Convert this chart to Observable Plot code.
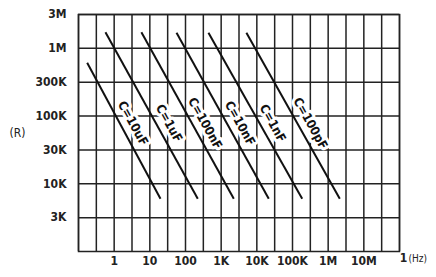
<!DOCTYPE html>
<html><head><meta charset="utf-8">
<script src="https://cdn.jsdelivr.net/npm/d3@7"></script>
<script src="https://cdn.jsdelivr.net/npm/@observablehq/plot@0.6"></script>
<style>body{margin:0;background:#fff}</style>
</head><body><div id="chart"></div>
<script>
// Capacitance lines (frequency in Hz, resistance in ohms)
const capLabels = ["C=10uF", "C=1uF", "C=100nF", "C=10nF", "C=1nF", "C=100pF"];
const fStart = [0.175, 0.57, 5.8, 56, 440, 5100];
const rStart = [612000, 1730000, 1730000, 1700000, 1700000, 1700000];
const fEnd = [19.9, 221, 2260, 21600, 187000, 2120000];
const rEnd = [6000, 6000, 6000, 6000, 6000, 6000];

// Axis ticks
const xTickValues = [1, 10, 100, 1e3, 1e4, 1e5, 1e6, 1e7];
const xTickLabels = ["1", "10", "100", "1K", "10K", "100K", "1M", "10M"];
const yTickValues = [10 ** 3.5, 1e4, 10 ** 4.5, 1e5, 10 ** 5.5, 1e6, 10 ** 6.5];
const yTickLabels = ["3K", "10K", "30K", "100K", "300K", "1M", "3M"];
const xDomain = [0.1, 1e8];
const yDomain = [1e3, 10 ** 6.5];
const labelR = 78000; // resistance where each line's label is centred

const xGrid = d3.range(-2, 17).map(k => 10 ** (k / 2));
const xLab = new Map(xTickValues.map((v, i) => [v, xTickLabels[i]]));
const yLab = new Map(yTickValues.map((v, i) => [v, yTickLabels[i]]));

const segs = capLabels.map((c, i) => ({c, x1: fStart[i], y1: rStart[i], x2: fEnd[i], y2: rEnd[i]}));
const labels = segs.map(s => {
  const t = (Math.log10(s.y1) - Math.log10(labelR)) / (Math.log10(s.y1) - Math.log10(s.y2));
  const f = 10 ** (Math.log10(s.x1) + t * (Math.log10(s.x2) - Math.log10(s.x1)));
  return {c: s.c, f, r: labelR};
});

const ink = "#222";
const chart = Plot.plot({
  width: 436,
  height: 277,
  marginLeft: 78,
  marginTop: 14,
  marginRight: 37,
  marginBottom: 26,
  style: {fontFamily: "'DejaVu Sans Condensed', 'DejaVu Sans'", fontWeight: "bold", fontSize: "12px", color: ink, background: "#fff"},
  x: {type: "log", domain: xDomain},
  y: {type: "log", domain: yDomain},
  marks: [
    Plot.gridX(xGrid, {stroke: ink, strokeOpacity: 1, strokeWidth: 1.5}),
    Plot.gridY(yTickValues, {stroke: ink, strokeOpacity: 1, strokeWidth: 1.5}),
    Plot.frame({stroke: ink, strokeWidth: 1.5}),
    Plot.axisX({ticks: xTickValues, tickFormat: d => xLab.get(d), tickSize: 0, tickPadding: 5, label: null, fill: ink}),
    Plot.axisY({ticks: yTickValues, tickFormat: d => yLab.get(d), tickSize: 0, tickPadding: 12, label: null, fill: ink}),
    Plot.text(labels, {x: "f", y: "r", text: "c", rotate: 61, dx: 13, textAnchor: "middle",
      fontSize: 12.5, fill: "#111", stroke: "white", strokeWidth: 6, paintOrder: "stroke"}),
    Plot.link(segs, {x1: "x1", y1: "y1", x2: "x2", y2: "y2", stroke: "#111", strokeWidth: 2}),
    Plot.text(["(R)"], {frameAnchor: "left", dx: -61, text: d => d, textAnchor: "middle", fill: ink, fontSize: 12, fontWeight: "normal"}),
    Plot.text(["1"], {frameAnchor: "bottom-right", dx: 4, dy: 10, text: d => d, textAnchor: "middle", fill: ink, fontSize: 12}),
    Plot.text(["(Hz)"], {frameAnchor: "bottom-right", dx: 9, dy: 10, text: d => d, textAnchor: "start", fill: ink, fontSize: 10, fontWeight: "normal"})
  ]
});
document.getElementById("chart").appendChild(chart);
</script>
</body></html>
